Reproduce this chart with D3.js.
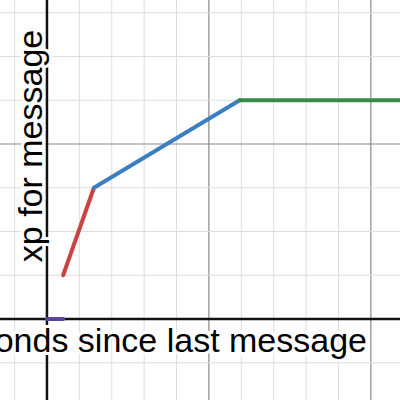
<!DOCTYPE html><html><head><meta charset="utf-8"><script src="https://cdn.jsdelivr.net/npm/d3@7"></script>
<style>body{margin:0;background:#fff}</style></head><body><svg id="c" width="400" height="400"></svg>
<script>
const segX0=[0,0.5,1.45,5.95];
const segX1=[0.5,1.45,5.95,11.5];
const segY0=[0,1,3,5];
const segY1=[0,3,5,5];
const segColors=["#6042a6","#c74440","#3c7fc1","#388c46"];
const xLabel="seconds since last message";
const yLabel="xp for message";
const svg=d3.select("#c");
const x=d3.scaleLinear().domain([-1.45,10.9]).range([0,400]);
const y=d3.scaleLinear().domain([7.29,-1.85]).range([0,400]);
const xt=d3.range(-1,11,1), yt=d3.range(-1,8,1);
svg.selectAll(".vx").data(xt).join("line").attr("x1",d=>x(d)).attr("x2",d=>x(d)).attr("y1",0).attr("y2",400)
 .attr("stroke",d=>d%5===0?"#888":"#ddd").attr("stroke-width",d=>d%5===0?1.2:1);
svg.selectAll(".hy").data(yt).join("line").attr("y1",d=>y(d)).attr("y2",d=>y(d)).attr("x1",0).attr("x2",400)
 .attr("stroke",d=>d%4===0?"#888":"#ddd").attr("stroke-width",d=>d%4===0?1.2:1);
svg.append("line").attr("x1",x(0)).attr("x2",x(0)).attr("y1",0).attr("y2",400).attr("stroke","#111").attr("stroke-width",2.5);
svg.append("line").attr("y1",y(0)).attr("y2",y(0)).attr("x1",0).attr("x2",400).attr("stroke","#111").attr("stroke-width",2.5);
const txt=(sel)=>sel.attr("font-family","Liberation Sans, Arial").attr("font-size",34).attr("fill","#000")
 .attr("stroke","#fff").attr("stroke-width",6).attr("paint-order","stroke");
svg.append("text").text(xLabel).attr("x",367).attr("y",352).attr("text-anchor","end").call(txt);
svg.append("text").text(yLabel).attr("transform","translate(42,146) rotate(-90)").attr("text-anchor","middle").call(txt);
segX0.forEach((d,i)=>{svg.append("line").attr("x1",x(d)).attr("x2",x(segX1[i])).attr("y1",y(segY0[i])).attr("y2",y(segY1[i]))
 .attr("stroke",segColors[i]).attr("stroke-width",4).attr("stroke-linecap","round");});
</script></body></html>
